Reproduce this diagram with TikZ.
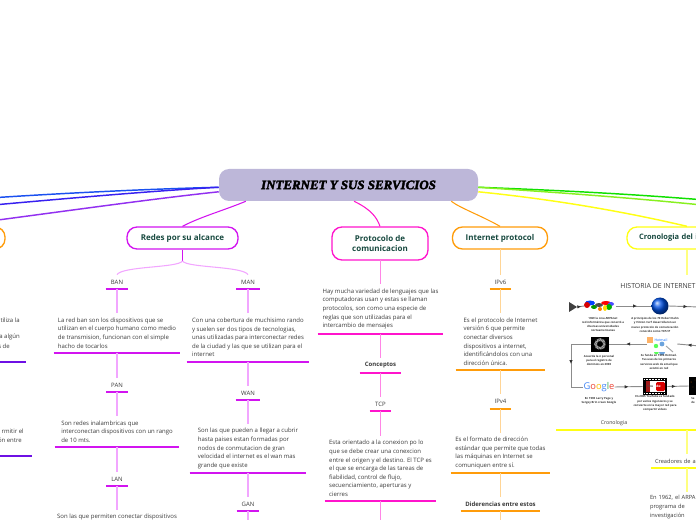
\documentclass[tikz,border=0pt]{standalone}
\usepackage{fontspec}
\setmainfont{Open Sans}
\newfontfamily\titlefont[BoldItalicFeatures={FakeBold=3}]{Liberation Serif}
\usetikzlibrary{arrows.meta,decorations.markings}
\definecolor{mainfill}{HTML}{BDB7D9}
\definecolor{topicink}{HTML}{17493F}
\definecolor{bodyink}{HTML}{3A3A3A}
\definecolor{redesdark}{HTML}{D214F0}
\definecolor{redeslight}{HTML}{F2A6FF}
\definecolor{protodark}{HTML}{FF14CC}
\definecolor{protolight}{HTML}{FF85E6}
\definecolor{ipdark}{HTML}{FF9C0A}
\definecolor{iplight}{HTML}{FFD596}
\definecolor{crondark}{HTML}{FFFF14}
\definecolor{cronlight}{HTML}{FFFF80}
\definecolor{leftrule}{HTML}{6E10E4}
\tikzset{
  topic/.style 2 args={draw=#1,line width=1pt,rounded corners=10*0.75pt,fill=white,align=center,
    text=topicink,font=\fontsize{6}{8.2}\selectfont\bfseries,minimum height=#2*0.75pt,inner sep=0pt},
  cell/.style 2 args={minimum width=#1*0.75pt,minimum height=#2*0.75pt,inner sep=0pt,text=bodyink,
    align=left,font=\fontsize{4.5}{6.45}\selectfont},
  rule/.style={line width=1.4pt},
  branch/.style={line width=1.1pt},
  thinbranch/.style={line width=0.8pt},
  stem/.style={line width=0.8pt},
  tiny/.style={inner sep=0pt,align=center,text=black!80,font=\fontsize{2.1}{3.2}\selectfont\bfseries},
  flowarrow/.style={draw=black!45,line width=0.7pt,postaction={decorate},
    decoration={markings,mark=at position #1 with {\arrow[black!80]{Latex[length=3pt,width=2.6pt]}}}}
}
\begin{document}
\begin{tikzpicture}[x=0.75pt,y=-0.75pt]
\useasboundingbox (0,0) rectangle (696,520);
\clip (0,0) rectangle (696,520);
% central topic and main topics
\node [fill=mainfill,rounded corners=10*0.75pt,minimum width=259*0.75pt,minimum height=32*0.75pt,font=\titlefont\fontsize{9.7}{12}\selectfont\bfseries\itshape] (main) at (348.5,185) {INTERNET Y SUS SERVICIOS};
\node [topic={ipdark}{22},minimum width=110*0.75pt] (leftTopic) at (-50,238) {};
\node [topic={redesdark}{22},minimum width=111*0.75pt] (redes) at (182.5,238) {Redes por su alcance};
\node [topic={protodark}{33},minimum width=96*0.75pt] (proto) at (380,243.5) {Protocolo de\\comunicacion};
\node [topic={ipdark}{22},minimum width=95*0.75pt] (ip) at (500,238) {Internet protocol};
\node [topic={crondark}{22},minimum width=120*0.75pt,text width=96*0.75pt,align=left,font=\fontsize{5.6}{8.2}\selectfont\bfseries] (cron) at (687,238) {Cronologia del i};
% free ends of the branches that leave the picture
\coordinate (blueA) at (-40,200);
\coordinate (blueB) at (-40,208);
\coordinate (greenA) at (740,203);
\coordinate (greenB) at (740,209);
\draw [branch,color={rgb,255:red,26;green,80;blue,240}] (main.181) .. controls (150,189) and (60,193) .. (blueA);
\draw [branch,color={rgb,255:red,56;green,32;blue,240}] (main.181.5) .. controls (150,191) and (60,199) .. (blueB);
\draw [branch,color={rgb,255:red,146;green,48;blue,240}] (main.183) .. controls (150,199) and (60,212) .. (leftTopic.north);
\draw [branch,color={rgb,255:red,16;green,224;blue,0}] (main.-1) .. controls (550,190) and (640,194) .. (greenA);
\draw [branch,color={rgb,255:red,136;green,240;blue,32}] (main.-1.5) .. controls (550,192) and (640,198) .. (greenB);
\draw [branch,color=crondark] (main.-3) .. controls (560,200) and (630,213) .. (cron.north);
\draw [thinbranch,color=redesdark] (main.189.2) .. controls (225,210) and (200,217) .. (redes.north);
\draw [thinbranch,color=protodark] (main.-71) .. controls (372,210) and (377,218) .. (proto.north);
\draw [thinbranch,color=ipdark] (main.-9.5) .. controls (460,208) and (482,216) .. (ip.north);
% text cells
\foreach \name/\x/\y/\w/\h/\txt in {
  ban/117/282/22/14/BAN,
  banText/117/333/126/40/{La red ban son los dispositivos que se\\utilizan en el cuerpo humano como medio\\de transmision, funcionan con el simple\\hacho de tocarlos},
  pan/117/385/21/14/PAN,
  panText/117/431.5/124/31/{Son redes inalambricas que\\interconectan dispositivos con un rango\\de 10 mts.},
  lan/117/479/21/14/LAN,
  lanText/117/517/124/14/{Son las que permiten conectar dispositivos},
  man/248/282/23/14/MAN,
  manText/248/337.5/122/49/{Con una cobertura de muchisimo rando\\y suelen ser dos tipos de tecnologias,\\unas utilizadas para interconectar redes\\de la ciudad y las que se utilizan para el\\internet},
  wan/248/393/24/14/WAN,
  wanText/248/448.5/116/49/{Son las que pueden a llegar a cubrir\\hasta paises estan formadas por\\nodos de conmutacion de gran\\velocidad el internet es el wan mas\\grande que existe},
  gan/248/504/22/14/GAN,
  protoText/380.5/309/125/50/{Hay mucha variedad de lenguajes que las\\computadoras usan  y estas se llaman\\protocolos, son como una especie de\\reglas que son utilizadas para el\\intercambio de mensajes},
  conceptos/380.5/365.5/41/15/\textbf{Conceptos},
  tcp/380.5/404/21/14/TCP,
  tcpText/380.5/468.5/111/65/{Esta orientado a la conexion po lo\\que se debe crear una conexcion\\entre el origen y el destino. El TCP es\\el que se encarga de las tareas de\\fiabilidad, control de flujo,\\secuenciamiento, aperturas y\\cierres},
  ipsix/500.5/282/21/14/IPv6,
  ipsixText/500.5/341.5/89/57/{Es el protocolo de Internet\\versión 6 que permite\\conectar diversos\\dispositivos a internet,\\identificándolos con una\\dirección única.},
  ipfour/500.5/401.5/21/15/IPv4,
  ipfourText/500.5/453/99/40/{Es el formato de dirección\\estándar que permite que todas\\las máquinas en Internet se\\comuniquen entre sí.},
  diferencias/500.5/504/79/14/\textbf{Diderencias entre estos}} {
  \node [cell={\w}{\h}] (\name) at (\x,\y) {\txt};
}
\node [cell={72}{14},text width=64*0.75pt,font=\fontsize{4.25}{6.45}\selectfont] (creadores) at (687,461) {Creadores de a};
\node [cell={78}{30},text width=74*0.75pt,font=\fontsize{4.3}{6.45}\selectfont] (arpaText) at (687,507) {En 1962, el ARPA\\programa de\\investigación};
% cut off on the left side
\foreach \name/\x/\y/\txt in {cutA/20/320/tiliza la,cutB/20/337/a algún,cutC/10/346/s de,cutD/24/431/rmitir el,cutE/22/440/ón entre} {
  \node [cell={1}{1},anchor=east] (\name) at (\x,\y) {\txt};
}
% rules under the cells
\foreach \name/\col in {ban/redesdark,banText/redesdark,pan/redesdark,panText/redesdark,lan/redesdark,man/redesdark,manText/redesdark,wan/redesdark,wanText/redesdark,gan/redesdark,protoText/protodark,conceptos/protodark,tcp/protodark,tcpText/protodark,ipsix/ipdark,ipsixText/ipdark,ipfour/ipdark,ipfourText/ipdark,diferencias/ipdark,creadores/crondark} {
  \draw [rule,draw=\col] (\name.south west) -- (\name.south east);
}
\coordinate (cutRuleA) at (26,362);
\coordinate (cutRuleB) at (32,456);
\draw [rule,draw=leftrule] (-2,362) -- (cutRuleA);
\draw [rule,draw=leftrule] (-2,456) -- (cutRuleB);
% stems
\coordinate (redesFork) at (182.5,261);
\draw [stem,color=redesdark] (redes.south) -- (redesFork);
\draw [stem,color=redeslight] (redesFork) .. controls (178,268) and (122,266) .. (ban.north);
\draw [stem,color=redeslight] (redesFork) .. controls (187,268) and (243,266) .. (man.north);
\foreach \a/\b in {ban/banText,banText/pan,pan/panText,panText/lan,lan/lanText,man/manText,manText/wan,wan/wanText,wanText/gan} {
  \draw [stem,color=redeslight] (\a.south) -- (\b.north);
}
\coordinate (ganEnd) at (248,524);
\draw [stem,color=redeslight] (gan.south) -- (ganEnd);
\coordinate (protoTop) at (380.5,260);
\foreach \a/\b in {protoTop/protoText.north,protoText.south/conceptos.north,conceptos.south/tcp.north,tcp.south/tcpText.north} {
  \draw [stem,color=protolight] (\a) -- (\b);
}
\coordinate (tcpEnd) at (380.5,524);
\draw [stem,color=protolight] (tcpText.south) -- (tcpEnd);
\coordinate (ipTop) at (500.5,249);
\foreach \a/\b in {ipTop/ipsix.north,ipsix.south/ipsixText.north,ipsixText.south/ipfour.north,ipfour.south/ipfourText.north,ipfourText.south/diferencias.north} {
  \draw [stem,color=iplight] (\a) -- (\b);
}
\coordinate (difEnd) at (500.5,524);
\draw [stem,color=iplight] (diferencias.south) -- (difEnd);
% cronologia
\node [inner sep=0pt,text=bodyink,font=\fontsize{5.2}{7}\selectfont] (historia) at (658,286) {HISTORIA DE INTERNET};
\coordinate (cronEnd) at (687,275);
\draw [stem,color=cronlight] (cron.south) -- (cronEnd);
\node [inner sep=0pt,text=bodyink,font=\fontsize{3.9}{7}\selectfont] (cronLabel) at (614,423) {Cronologia};
\coordinate (cronRule) at (687,430);
\draw [rule,draw=crondark] (556,430) -- (700,430);
\draw [stem,color=cronlight] (cronRule) -- (creadores.north);
\draw [stem,color=cronlight] (creadores.south) -- (arpaText.north);
% icons of the history chart
\fill [black!75] (569,302) -- (577,307) -- (569,312) -- cycle;
\coordinate (flowStart) at (577,307);
\node [minimum width=31*0.75pt,minimum height=12*0.75pt,inner sep=0pt] (mapIcon) at (600,306) {};
\foreach \x/\y/\a/\b/\col in {590/303/5/2.5/blue!75!cyan,587/305/3/3/red!85!black,594/307/3/2/green!60!black,599/305/4/2/black!70,606/303/5/2/red,611/304/3/2/blue!70,609/307/3/3/green!70!black,605/308/2/3/yellow!90!red,600/309/2/2/orange} {
  \fill [color=\col] (\x,\y) ellipse [x radius=\a,y radius=\b];
}
\node [circle,minimum size=17*0.75pt,inner sep=0pt,shading=ball,ball color=blue!65!cyan!90!black] (globeIcon) at (660,306) {};
\node [fill=black,minimum width=18*0.75pt,minimum height=15*0.75pt,inner sep=0pt] (domainIcon) at (600,344) {};
\draw [black!35,line width=2pt,dash pattern=on 0.7pt off 0.4pt] (600,344) circle [radius=4.5];
\node [minimum width=30*0.75pt,minimum height=15*0.75pt,inner sep=0pt] (hotmailIcon) at (662,344) {};
\fill [orange!60!white] (647,337) rectangle (653,343);
\node [inner sep=0pt,text=blue!60!cyan,font=\fontsize{2.6}{3}\selectfont] (hotmailText) at (661,340) {Hotmail};
\fill [green!65!white] (656,346) circle [radius=2.2] (654,352) arc [start angle=180,end angle=0,radius=2.4];
\fill [cyan!60!blue!60!white] (662,344) circle [radius=2.4] (659,352) arc [start angle=180,end angle=0,radius=3];
\draw [black!35,line width=0.7pt] (666,346) -- (673,352);
\node [inner sep=0pt,font=\fontsize{7}{8}\selectfont] (googleIcon) at (599,387) {\textcolor[HTML]{4285F4}{G}\textcolor[HTML]{EA4335}{o}\textcolor[HTML]{FBBC05}{o}\textcolor[HTML]{4285F4}{g}\textcolor[HTML]{34A853}{l}\textcolor[HTML]{EA4335}{e}};
\node [fill=black,minimum width=24*0.75pt,minimum height=17*0.75pt,inner sep=0pt] (tubeIcon) at (655,386.5) {};
\fill [white] (646,381) rectangle (665,392);
\fill [red!60!black!90] (646,381) rectangle (650,392);
\fill [red!85!black,rounded corners=1pt] (656,382) rectangle (665,391);
\node [inner sep=0pt,text=black!70,font=\fontsize{2.4}{3}\selectfont\bfseries] (tubeText) at (654,386.5) {You\textcolor{white}{Tube}};
\draw [white,line width=0.8pt,dash pattern=on 1pt off 1.2pt] (643.5,379.5) -- (666.5,379.5) (643.5,393.5) -- (666.5,393.5);
\node [fill=black,minimum width=20*0.75pt,minimum height=18*0.75pt,inner sep=0pt] (movieIcon) at (699,386) {};
\fill [orange!70!black] (691,382) circle [radius=0.5] (693,387) circle [radius=0.4] (695,380) circle [radius=0.4];
% texts of the history chart
\node [tiny] (mapText) at (603,324.5) {1969 la crea ARPAnet\\red informática que conectó a\\diversas universidades\\norteamericanas};
\node [tiny] (globeText) at (655,325) {A principios de los 70 Robert Kahn\\y Vinton Cerf desarrollaron un\\nuevo protocolo de comunicación\\conocido como TCP/IP};
\node [tiny] (domainText) at (599,360.5) {Acuerda la n personal\\para el registro de\\dominios en 2000};
\node [tiny] (hotmailInfo) at (659,362) {Se funda en 1996 Hotmail.\\Tus uses de los primeros\\servicios web de email que\\existió en red};
\node [tiny] (googleText) at (599,400.5) {En 1998 Larry Page y\\Sergey Brin crean Google};
\node [tiny] (tubeInfo) at (655,403.5) {En 2005 YouTube es fundado\\por varios ingenieros y se\\convierte en la mayor red para\\compartir videos};
\node [tiny,align=left,anchor=west] (movieText) at (691,400.5) {Se\\de};
% arrows of the history chart
\coordinate (rowOneEnd) at (700,307);
\coordinate (rowTwoEnd) at (700,346);
\coordinate (flowCorner) at (571,387);
\draw [flowarrow=0.6] (flowStart) -- (mapIcon.west);
\draw [flowarrow=0.6] (mapIcon.east) -- (globeIcon.west);
\draw [flowarrow=0.6] (globeIcon.east) -- (rowOneEnd);
\draw [flowarrow=0.55] (rowTwoEnd) -- (hotmailIcon.east);
\draw [flowarrow=0.55] (hotmailIcon.west) -- (domainIcon.east);
\draw [flowarrow=0.53] (domainIcon.west) -| (flowCorner) |- (googleIcon.west);
\draw [flowarrow=0.5] (googleIcon.east) -- (tubeIcon.west);
\draw [flowarrow=0.4] (tubeIcon.east) -- (movieIcon.west);
\end{tikzpicture}
\end{document}
